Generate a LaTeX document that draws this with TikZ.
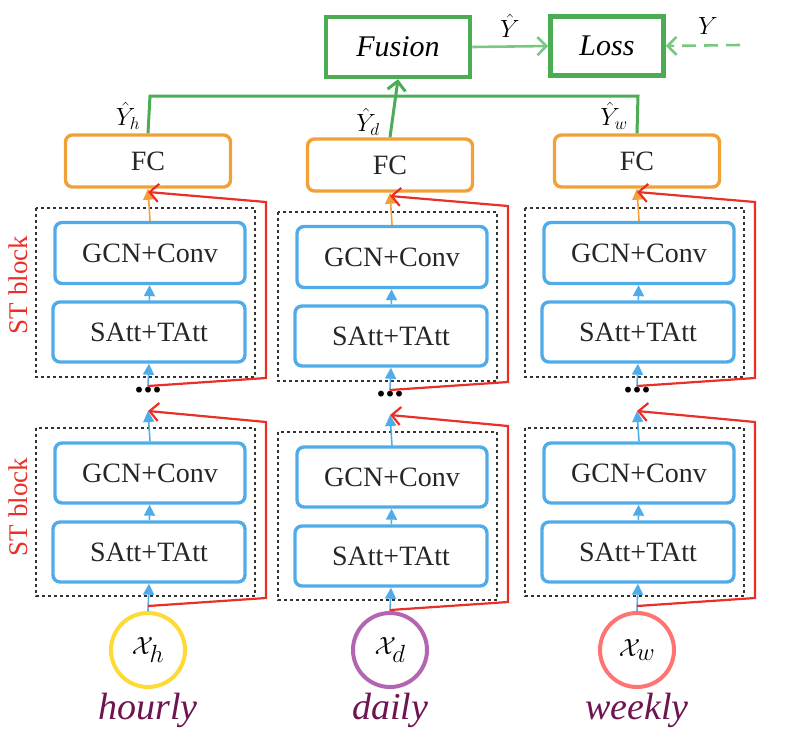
\documentclass[tikz,border=0pt]{standalone}
\usepackage{fontspec}
\setmainfont{Liberation Serif}
\usetikzlibrary{arrows.meta}
\definecolor{gr}{RGB}{76,172,84}
\definecolor{lgr}{RGB}{120,200,130}
\definecolor{org}{RGB}{242,160,56}
\definecolor{blu}{RGB}{80,172,232}
\definecolor{rd}{RGB}{232,48,40}
\definecolor{hw}{RGB}{110,20,80}
\tikzset{
 box/.style={draw,rounded corners=7pt,line width=3.4pt,font=\fontsize{28}{30}\selectfont,text=black!85,inner sep=0pt},
 bl/.style={box,draw=blu},
 fc/.style={box,draw=org},
 gbox/.style={draw=gr,line width=4.5pt,font=\itshape\fontsize{30}{32}\selectfont,inner sep=0pt},
 dbox/.style={draw=black!80,dashed,line width=1.2pt},
 barr/.style={draw=blu,line width=1.6pt,-{Triangle[length=11pt,width=11pt]}},
 oarr/.style={draw=org,line width=1.6pt,-{Triangle[length=11pt,width=11pt]}},
 rarr/.style={draw=rd,line width=2.2pt,-{Straight Barb[length=9pt,width=18pt]}},
 garr/.style={draw=gr,line width=3pt},
 inp/.style={circle,line width=4pt,minimum size=74pt,inner sep=0pt,font=\fontsize{40}{42}\selectfont},
 hand/.style={text=hw,font=\itshape\fontsize{38}{40}\selectfont},
 stl/.style={text=rd,rotate=90,font=\fontsize{27}{29}\selectfont},
 hat/.style={font=\fontsize{26}{28}\selectfont}
}
\begin{document}
\begin{tikzpicture}[x=1pt,y=-1pt]
\useasboundingbox (0,0) rectangle (788,748);
\node[gbox,minimum width=144pt,minimum height=60pt] (fus) at (398,47) {Fusion};
\node[gbox,minimum width=113pt,minimum height=59pt] (loss) at (607,46) {Loss};
\draw[draw=lgr,line width=2.6pt,-{Straight Barb[length=9pt,width=18pt]}] (fus.east) -- (loss.west);
\node[hat] (yhat) at (510,26) {$\hat{Y}$};
\coordinate (yend) at (740,45);
\draw[draw=lgr,line width=2.6pt,dash pattern=on 14pt off 8pt,-{Straight Barb[length=9pt,width=18pt]}] (yend) -- (loss.east);
\node[hat] (ylab) at (708,26) {$Y$};

\foreach \n/\cx/\dy/\col/\sub/\word in {h/148/0/yellow!70!orange!80/h/hourly, d/390/4/violet!60!white/d/daily, w/637/0/red!40!pink/w/weekly}{
 \node[fc,minimum width=165pt,minimum height=52pt] (fc\n) at (\cx,161+\dy) {FC};
 \draw[dbox] (\cx-112,208+\dy) rectangle (\cx+107,377+\dy);
 \node[bl,minimum width=190pt,minimum height=61pt] (g1\n) at (\cx+2,253+\dy) {GCN+Conv};
 \node[bl,minimum width=192pt,minimum height=60pt] (s1\n) at (\cx+1,332+\dy) {SAtt+TAtt};
 \draw[dbox] (\cx-112,428+\dy) rectangle (\cx+107,596+\dy);
 \node[bl,minimum width=190pt,minimum height=60pt] (g2\n) at (\cx+2,473+\dy) {GCN+Conv};
 \node[bl,minimum width=192pt,minimum height=60pt] (s2\n) at (\cx+1,552+\dy) {SAtt+TAtt};
 \node[font=\bfseries\fontsize{36}{36}\selectfont,inner sep=0pt] (dots\n) at (\cx,390+\dy) {...};
 \node[inp,draw=\col] (x\n) at (\cx,650) {$\mathcal{X}_\sub$};
 \node[hand] (hw\n) at (\cx,710) {\word};
 \coordinate (b1\n) at (\cx,386+\dy);
 \coordinate (b2\n) at (\cx,606+\dy);
 \coordinate (t1\n) at (\cx,192+\dy);
 \coordinate (t2\n) at (\cx,411+\dy);
 \draw[barr] (x\n.north) -- (s2\n.south);
 \draw[barr] (s2\n) -- (g2\n);
 \draw[barr] (g2\n.north) -- (t2\n);
 \draw[barr] (b1\n) -- (s1\n.south);
 \draw[barr] (s1\n) -- (g1\n);
 \draw[oarr] (g1\n.north) -- (fc\n.south);
 \draw[rarr] (b2\n) -- (\cx+118,598+\dy) -- (\cx+118,422+\dy) -- (t2\n);
 \draw[rarr] (b1\n) -- (\cx+118,378+\dy) -- (\cx+118,202+\dy) -- (t1\n);
}
\node[stl] (st1) at (18,285) {ST block};
\node[stl] (st2) at (18,507) {ST block};
\draw[garr] (fch.north) -- (150,96) -- (638,96) -- (fcw.north);
\draw[garr,-{Straight Barb[length=9pt,width=18pt]}] (fcd.north) -- (fus.south);
\node[hat] (yh) at (128,116) {$\hat{Y}_h$};
\node[hat] (yd) at (368,122) {$\hat{Y}_d$};
\node[hat] (yw) at (614,116) {$\hat{Y}_w$};
\end{tikzpicture}
\end{document}
